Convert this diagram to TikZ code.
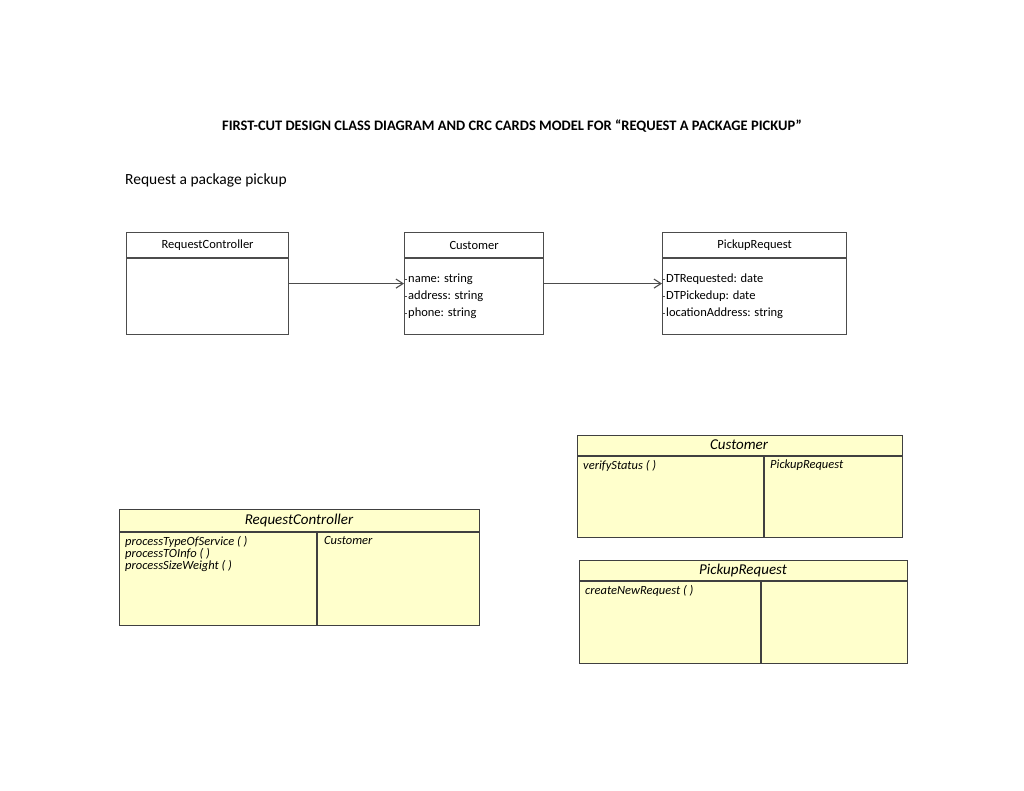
\documentclass[tikz,border=0pt]{standalone}
\usepackage{fontspec}
\setmainfont{Carlito}
\usetikzlibrary{arrows.meta}
\definecolor{crcyellow}{RGB}{255,255,204}
\tikzset{
  classbox/.style={draw,line width=1.2pt,black!70,anchor=north west,inner sep=0pt},
  crcbox/.style={draw,line width=1.4pt,black!75,fill=crcyellow,anchor=north west,inner sep=0pt},
  attr/.style={anchor=west,font=\fontsize{12.5}{14}\selectfont,inner sep=1pt},
  crctext/.style={font=\itshape\fontsize{12.5}{13}\selectfont,inner sep=1pt},
}
\begin{document}
\begin{tikzpicture}[x=1pt,y=-1pt]
\useasboundingbox[fill=white] (0,0) rectangle (1024,791);
% Titles
\node (title) [font=\bfseries\fontsize{14.5}{16}\selectfont] at (512,126) {FIRST-CUT DESIGN CLASS DIAGRAM AND CRC CARDS MODEL FOR “REQUEST A PACKAGE PICKUP”};
\node (sub) [anchor=west,font=\fontsize{15.5}{17}\selectfont,inner sep=0pt] at (125,180) {Request a package pickup};

% Design classes
\node (rc) [classbox,minimum width=162pt,minimum height=102pt] at (126,232) {};
\node (cu) [classbox,minimum width=139pt,minimum height=102pt] at (404,232) {};
\node (pr) [classbox,minimum width=184pt,minimum height=102pt] at (662,232) {};
\foreach \n/\t in {rc/RequestController,cu/Customer,pr/PickupRequest}{
  \node (\n-name) [font=\fontsize{12.5}{14}\selectfont,yshift=-13pt] at (\n.north) {\t};
}
\draw[line width=1.2pt,black!70] (rc.north west) ++(0,26) -- ++(162,0);
\draw[line width=1.2pt,black!70] (cu.north west) ++(0,26) -- ++(139,0);
\draw[line width=1.2pt,black!70] (pr.north west) ++(0,26) -- ++(184,0);
\node[attr] (cu-a1) at (407,279) {name: string};
\node[attr] (cu-a2) at (407,296) {address: string};
\node[attr] (cu-a3) at (407,313) {phone: string};
\node[attr] (pr-a1) at (665,279) {DTRequested: date};
\node[attr] (pr-a2) at (665,296) {DTPickedup: date};
\node[attr] (pr-a3) at (665,313) {locationAddress: string};
\foreach \a in {cu-a1,cu-a2,cu-a3,pr-a1,pr-a2,pr-a3}
  \draw[black!70] (\a.west) ++(-3,0) -- (\a.west);
\draw[-{Straight Barb[length=7pt,width=9pt]},line width=1.1pt,black!70] (rc.east) -- (cu.west);
\draw[-{Straight Barb[length=7pt,width=9pt]},line width=1.1pt,black!70] (cu.east) -- (pr.west);

% CRC cards
\node (crc-cu) [crcbox,minimum width=325pt,minimum height=102pt] at (577,435) {};
\draw[line width=1.4pt,black!75] (577,456) -- (902,456) (764,456) -- (764,537);
\node[crctext,font=\itshape\fontsize{15}{16}\selectfont] (crc-cu-name) at (739,445) {Customer};
\node[crctext,anchor=north west] (crc-cu-r) at (582,459) {verifyStatus ( )};
\node[crctext,anchor=north west] (crc-cu-c) at (769,459) {PickupRequest};

\node (crc-rc) [crcbox,minimum width=360pt,minimum height=116pt] at (119,509) {};
\draw[line width=1.4pt,black!75] (119,532) -- (479,532) (317,532) -- (317,625);
\node[crctext,font=\itshape\fontsize{15}{16}\selectfont] (crc-rc-name) at (299,520) {RequestController};
\node[crctext,anchor=north west,align=left,font=\itshape\fontsize{12.5}{12}\selectfont] (crc-rc-r) at (124,535) {processTypeOfService ( )\\processTOInfo ( )\\processSizeWeight ( )};
\node[crctext,anchor=north west] (crc-rc-c) at (323,535) {Customer};

\node (crc-pr) [crcbox,minimum width=328pt,minimum height=103pt] at (579,560) {};
\draw[line width=1.4pt,black!75] (579,581) -- (907,581) (761,581) -- (761,663);
\node[crctext,font=\itshape\fontsize{15}{16}\selectfont] (crc-pr-name) at (743,570) {PickupRequest};
\node[crctext,anchor=north west] (crc-pr-r) at (584,584) {createNewRequest ( )};
\end{tikzpicture}
\end{document}
